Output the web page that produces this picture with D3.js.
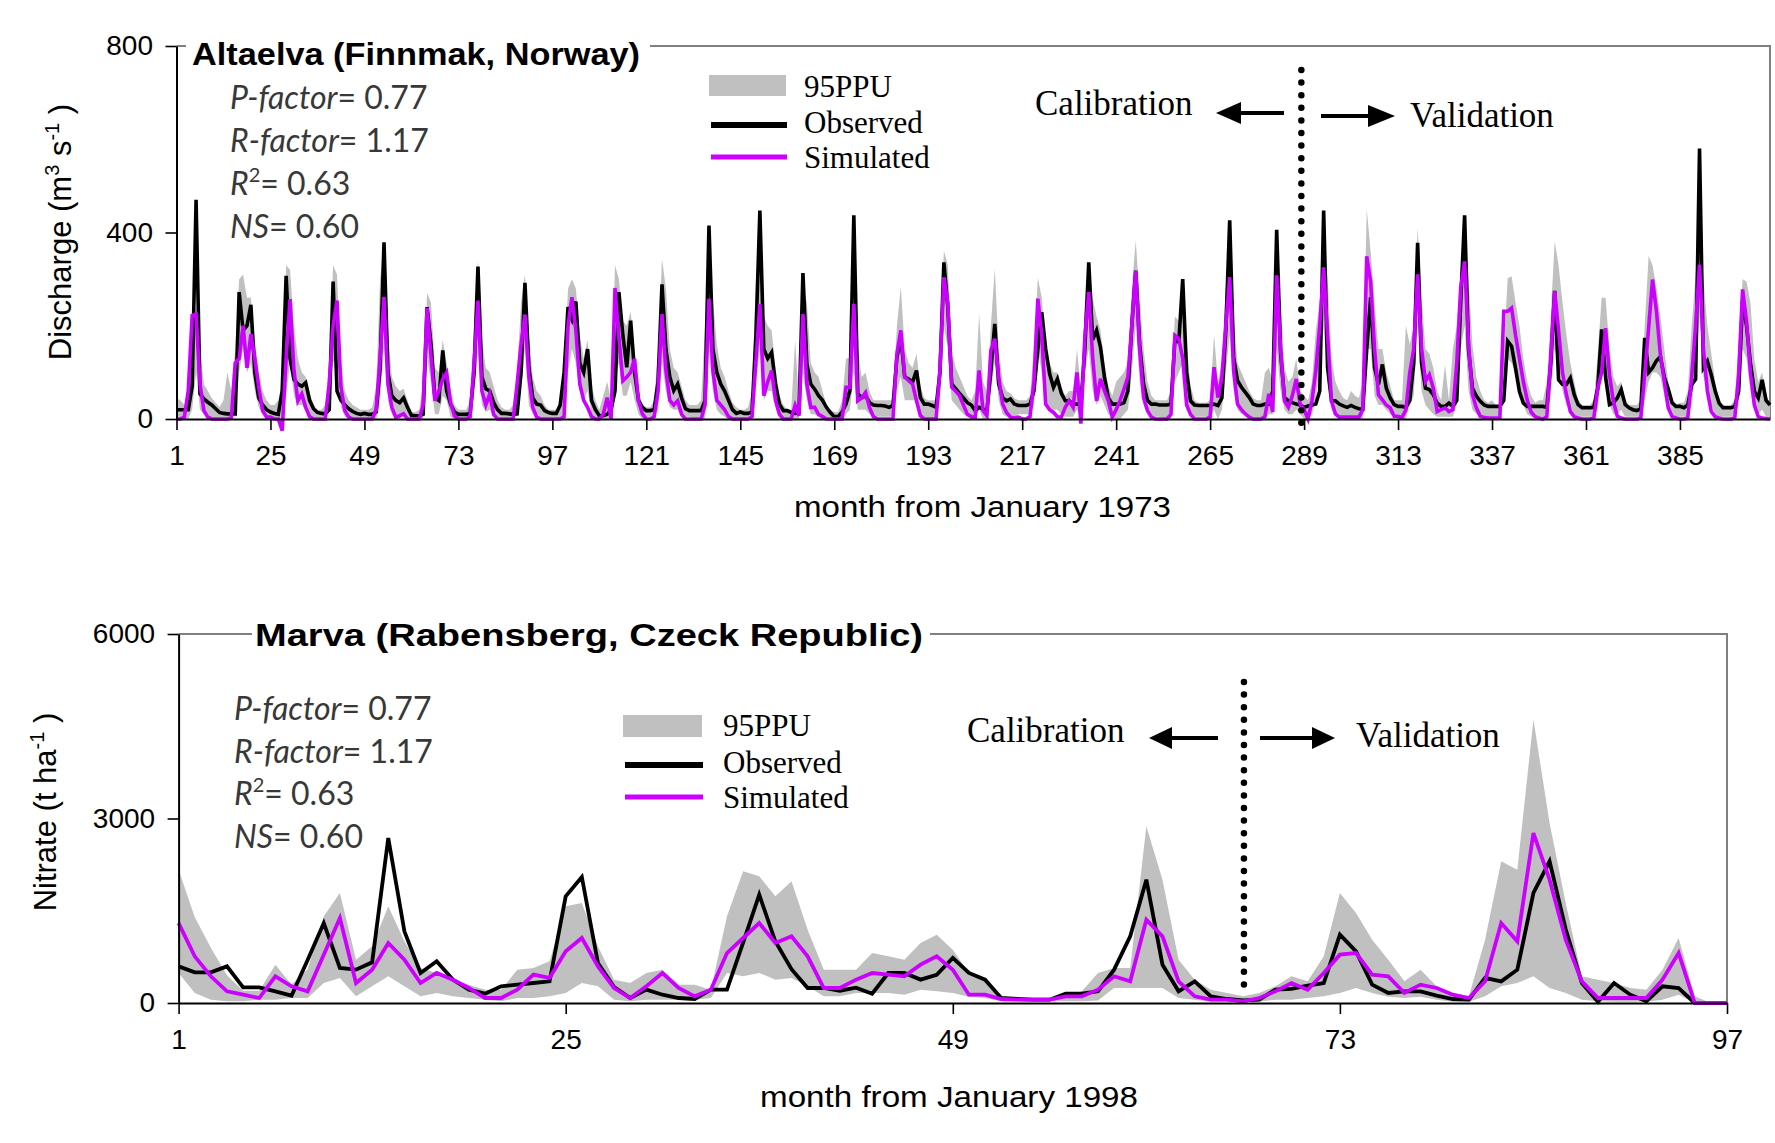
<!DOCTYPE html>
<html><head><meta charset="utf-8">
<script src="https://cdn.jsdelivr.net/npm/d3@7"></script>
<style>body{margin:0;background:#fff;}svg{display:block;}</style>
</head><body>
<svg id="chart" width="1775" height="1143"></svg>
<script>
// ---------- Altaelva: monthly discharge (m3/s), months 1..408 from Jan 1973 ----------
const obsQ = [
20,20,20,20,70,470,54,43,36,30,22,14,
12,11,11,11,272,190,200,245,100,45,30,20,
15,12,10,60,307,130,85,75,70,78,40,22,
14,12,11,20,295,60,40,30,22,16,12,10,
12,10,10,15,110,379,100,50,40,35,45,25,
8,7,7,10,240,160,46,40,147,60,32,15,
10,10,10,12,100,327,90,65,60,35,20,12,
12,11,10,11,100,292,110,45,32,30,18,14,
12,12,30,100,240,215,252,120,100,150,40,20,
7,7,10,20,60,272,180,111,211,100,40,25,
18,18,20,80,289,150,90,61,75,45,22,18,
18,18,18,40,415,150,100,75,60,40,20,12,
15,12,12,15,180,447,150,130,143,75,32,18,
18,14,12,14,313,118,75,64,50,40,25,14,
5,5,15,32,61,437,54,46,50,35,30,29,
29,28,25,29,132,175,90,86,79,104,46,32,
32,29,25,100,336,240,75,65,55,45,35,30,
18,25,21,18,104,204,75,46,39,43,32,29,
29,29,32,60,150,229,150,97,68,86,55,39,
39,32,32,32,150,336,170,190,154,90,46,32,
32,32,35,60,200,318,160,75,40,32,32,30,
30,30,32,170,165,300,100,39,30,29,29,29,
29,32,29,45,190,426,132,82,68,57,46,32,
29,29,32,32,60,406,140,46,39,35,32,30,
25,28,30,32,60,447,110,39,39,32,28,25,
29,25,22,21,150,261,110,74,117,66,45,31,
27,27,25,40,120,378,120,66,63,52,34,27,
27,34,27,40,250,437,150,66,49,38,30,27,
27,27,27,40,167,156,109,59,34,27,27,27,
27,27,25,120,275,84,74,74,88,52,31,24,
24,24,25,66,192,90,31,35,45,63,31,24,
20,18,22,174,100,110,125,134,90,65,35,27,
27,24,30,74,85,580,110,124,95,60,34,24,
24,24,27,60,256,200,120,60,45,84,40,30
];
const simQ = [
0,0,4,60,222,225,75,18,4,0,0,0,
0,0,2,120,130,200,110,182,130,68,18,4,
4,0,0,-25,130,257,104,39,54,25,5,0,
0,0,0,75,200,254,68,18,4,0,0,0,
0,0,0,20,132,262,75,25,4,7,11,0,
0,0,0,30,238,135,39,60,85,99,35,7,
0,0,0,5,118,254,60,30,54,10,0,0,
0,0,0,75,160,224,90,25,4,0,0,0,
0,0,0,5,200,261,190,75,40,25,5,0,
0,10,46,0,281,175,82,90,100,129,39,11,
0,0,5,60,225,104,40,30,39,10,0,0,
0,0,0,30,258,104,40,30,20,5,0,0,
0,0,0,5,125,247,50,80,104,40,10,0,
0,0,29,7,225,75,25,25,10,5,0,0,
0,0,0,68,68,247,39,45,57,25,5,0,
0,0,0,0,140,190,90,82,75,39,7,0,
0,0,0,104,304,250,68,60,50,30,10,5,
4,104,18,7,147,172,90,32,14,4,2,4,
0,0,5,80,258,180,32,20,14,5,4,25,
39,25,100,-10,175,272,132,39,86,61,39,4,
20,40,64,90,200,318,150,46,18,4,0,0,
0,0,10,179,172,130,30,10,0,0,0,0,
4,111,46,90,200,304,104,32,20,11,4,0,
0,0,5,54,15,308,150,39,25,50,86,32,
20,0,39,104,200,325,180,39,11,4,4,4,
4,4,4,20,349,295,150,52,41,30,24,6,
6,3,20,100,150,310,152,81,95,66,16,20,
24,16,20,120,281,338,160,52,24,6,3,2,
2,2,2,231,231,238,180,130,80,40,15,5,
2,0,5,130,274,190,100,52,16,5,2,0,
0,0,2,66,100,195,95,38,6,2,0,0,
0,0,2,95,195,299,231,138,81,24,5,2,
0,0,2,90,200,331,150,60,16,5,2,0,
0,0,2,95,278,210,100,30,5,2,1,0
];
const hiQ = [
45,40,30,40,150,240,150,75,60,45,35,25,
40,100,60,150,300,310,260,260,170,100,60,40,
30,30,40,80,330,320,200,130,100,90,55,30,
20,20,30,120,330,310,120,60,40,30,25,20,
20,20,25,70,300,380,190,90,70,60,65,40,
15,15,20,80,270,250,110,100,170,120,60,30,
20,20,20,40,200,340,170,110,100,70,40,25,
20,20,30,100,250,310,180,90,60,50,30,20,
20,20,30,100,280,300,280,180,130,170,70,40,
20,50,80,40,330,300,210,200,230,150,60,30,
25,25,40,150,343,280,150,110,100,70,40,30,
30,30,40,200,300,261,160,110,90,60,35,25,
20,20,25,60,300,330,220,200,190,110,50,30,
20,20,168,40,280,250,120,100,90,60,30,20,
15,15,40,130,130,300,150,90,100,60,40,40,
40,40,40,40,200,283,150,120,110,140,70,45,
40,40,40,180,361,330,150,110,90,70,50,40,
60,225,80,60,200,322,150,80,60,55,45,40,
40,40,50,150,303,260,150,120,100,100,70,50,
60,60,150,60,250,330,260,220,190,120,70,50,
80,90,100,120,280,383,260,150,80,50,40,40,
40,40,60,220,210,280,160,70,40,35,35,35,
40,180,80,120,280,380,220,120,100,80,60,45,
40,40,100,110,80,330,250,110,80,90,130,60,
50,40,80,190,250,380,300,130,80,60,45,40,
60,50,45,80,450,360,250,150,150,100,70,40,
40,40,200,160,200,410,260,150,140,110,60,40,
117,40,150,200,320,400,300,160,90,60,40,35,
40,30,30,150,302,306,250,200,130,80,50,35,
40,40,80,220,381,330,250,180,120,80,40,30,
30,30,40,140,260,260,150,90,70,80,40,30,
30,30,40,200,350,330,280,220,150,80,40,30,
35,35,60,200,310,420,300,200,140,80,40,30,
30,30,40,170,300,295,250,130,80,100,50,35
];
const loQ = [
0,0,0,0,20,100,20,10,5,0,0,0,
0,0,0,20,100,150,100,120,60,25,10,5,
0,0,0,0,50,120,50,30,30,20,5,0,
0,0,0,30,120,140,25,5,0,0,0,0,
0,0,0,0,40,150,40,10,0,0,10,5,
0,0,0,0,130,80,10,10,50,40,5,0,
0,0,0,0,50,140,30,15,20,5,0,0,
0,0,0,10,60,150,30,10,5,5,0,0,
0,0,0,0,100,150,120,60,40,60,10,0,
0,0,0,0,100,120,50,50,80,40,10,0,
5,5,5,20,120,60,25,20,20,10,5,5,
0,0,0,0,150,60,20,10,5,0,0,0,
0,0,0,0,80,150,40,60,60,25,5,0,
0,0,0,0,100,40,10,10,5,0,0,0,
0,0,0,10,20,100,20,20,20,10,5,5,
5,5,5,5,60,90,40,40,40,40,10,5,
0,0,0,40,200,150,40,30,20,10,5,0,
0,20,0,0,60,120,40,10,5,5,5,10,
10,10,10,30,150,100,40,20,20,20,10,5,
5,5,20,0,100,150,60,30,50,30,10,5,
0,0,10,20,100,200,80,30,10,5,5,5,
0,0,0,80,100,120,40,10,5,5,5,5,
0,20,0,20,100,180,60,20,10,10,5,5,
0,0,0,10,10,150,60,20,10,10,20,10,
0,0,10,40,120,200,80,20,10,5,5,5,
0,0,0,0,150,150,50,30,30,20,10,5,
0,0,0,30,50,200,60,30,20,10,5,5,
5,5,5,30,150,200,60,20,10,5,5,5,
5,5,5,100,130,120,100,60,30,10,5,5,
5,5,5,50,150,120,60,30,20,10,5,5,
5,5,5,20,100,120,30,10,10,20,5,5,
5,5,5,40,80,100,100,90,50,20,5,5,
5,5,5,30,100,220,90,60,30,10,5,5,
5,5,5,30,150,130,60,20,10,20,5,5
];
const ticksQ = [1,25,49,73,97,121,145,169,193,217,241,265,289,313,337,361,385];
const yTicksQ = [0,400,800];

// ---------- Marva: monthly nitrate (t/ha), months 1..97 from Jan 1998 ----------
const obsN = [
596,499,499,596,255,255,190,119,700,1300,569,542,
661,2683,1165,488,678,380,217,152,271,298,325,352,
1734,2049,650,260,81,217,135,81,65,217,217,980,
1760,1000,550,244,244,200,250,150,488,488,380,460,
732,488,380,81,65,54,54,152,152,190,542,1084,
2005,623,190,352,108,65,43,54,217,228,282,325,
1111,840,298,163,190,190,119,65,54,407,352,542,
1789,2304,1200,325,20,325,135,27,271,244,0,0,
0
];
const simN = [
1300,759,434,190,135,81,434,271,190,786,1382,325,
542,976,705,325,488,380,244,81,81,217,461,407,
840,1057,596,244,81,271,488,244,108,217,813,1057,
1300,976,1084,759,244,244,380,488,461,434,623,759,
542,135,135,65,54,54,54,108,108,217,434,352,
1355,1084,352,108,54,54,27,81,190,325,217,488,
786,813,461,434,163,298,244,135,81,352,1300,1003,
2764,2005,1030,352,81,81,81,81,380,813,0,0,
0
];
const hiN = [
2168,1400,900,450,200,200,623,300,550,1409,1789,705,
921,1572,1003,569,488,380,298,217,217,542,569,678,
1572,1626,921,380,325,488,542,298,298,217,1409,2141,
2060,1734,1978,1192,542,542,542,813,759,705,976,1111,
867,488,380,108,81,81,81,135,190,488,569,569,
2873,2005,705,380,217,163,108,163,271,434,352,759,
1789,1463,1030,705,352,542,271,163,108,1030,2304,2168,
4607,2927,1626,434,380,325,244,217,542,1057,108,0,
0
];
const loN = [
488,163,54,27,27,54,54,81,81,325,407,108,
271,434,271,108,163,108,81,54,27,81,81,108,
163,325,271,54,27,54,54,54,54,81,488,434,
488,380,407,271,108,108,163,163,163,135,217,190,
163,100,80,27,27,27,27,27,27,40,244,244,
244,244,81,54,20,20,20,20,54,54,81,108,
163,244,163,100,80,100,54,20,20,108,271,325,
434,244,163,54,27,20,20,20,54,135,0,0,
0
];
const ticksN = [1,25,49,73,97];
const yTicksN = [0,3000,6000];

const statLines = [
  [{t:'P-factor',it:true},{t:'= 0.77'}],
  [{t:'R-factor',it:true},{t:'= 1.17'}],
  [{t:'R',it:true},{t:'2',sup:true},{t:'= 0.63'}],
  [{t:'NS',it:true},{t:'= 0.60'}]
];
const legendLabels = ['95PPU','Observed','Simulated'];

// ---------- drawing ----------
const svg = d3.select('#chart');
const SANS = "'Liberation Sans', Arial, sans-serif";
const SERIF = "'Liberation Serif', 'Times New Roman', serif";
const CAL = "Lato, 'Open Sans', sans-serif";
const BAND = '#c0c0c0', SIM = '#cc00ff', FRAME = '#808080';

function panel(o){
  const x = d3.scaleLinear().domain(o.xDomain).range(o.xRange);
  const y = d3.scaleLinear().domain(o.yDomain).range(o.yRange);
  const g = svg.append('g');
  const idx = d3.range(o.obs.length);
  const [x0,x1] = o.xRange, [yb,yt] = o.yRange;
  g.append('path').attr('d',`M${x0},${yt}H${x1}V${yb}`).attr('fill','none')
    .attr('stroke',FRAME).attr('stroke-width',2);
  g.append('path').datum(idx)
    .attr('d', d3.area().x(i=>x(i+1)).y0(i=>y(o.lo[i])).y1(i=>y(o.hi[i])))
    .attr('fill',BAND);
  g.append('path').datum(idx)
    .attr('d', d3.line().x(i=>x(i+1)).y(i=>y(o.obs[i])))
    .attr('fill','none').attr('stroke','#000').attr('stroke-width',o.lw);
  g.append('path').datum(idx)
    .attr('d', d3.line().x(i=>x(i+1)).y(i=>y(o.sim[i])))
    .attr('fill','none').attr('stroke',SIM).attr('stroke-width',o.lw);
  const gx = g.append('g').attr('transform',`translate(0,${yb})`)
    .call(d3.axisBottom(x).tickValues(o.xTicks).tickSize(11).tickSizeOuter(0).tickPadding(15).tickFormat(d3.format('d')));
  const gy = g.append('g').attr('transform',`translate(${x0},0)`)
    .call(d3.axisLeft(y).tickValues(o.yTicks).tickSize(11).tickSizeOuter(0).tickPadding(12.5).tickFormat(d3.format('d')));
  [gx,gy].forEach(a=>{
    a.attr('font-family',SANS).attr('font-size',28);
    a.select('.domain').attr('stroke','#000').attr('stroke-width',2);
    a.selectAll('.tick line').attr('stroke','#000').attr('stroke-width',1.6);
    a.selectAll('.tick text').attr('fill','#000');
  });
  return {x,y,g};
}

function titleBox(g, txt, x, base, size, len, bgFrom, bgTo, top){
  g.append('rect').attr('x',bgFrom).attr('y',top-6).attr('width',bgTo-bgFrom).attr('height',14).attr('fill','#fff');
  g.append('text').attr('x',x).attr('y',base).attr('font-family',SANS).attr('font-weight','bold')
    .attr('font-size',size).attr('textLength',len).attr('lengthAdjust','spacingAndGlyphs').attr('fill','#000').text(txt);
}

function stats(g, x, bases){
  statLines.forEach((parts,k)=>{
    const t = g.append('text').attr('x',x).attr('y',bases[k]).attr('font-family',CAL)
      .attr('font-size',32).attr('fill','#383838');
    let shifted=false;
    parts.forEach(p=>{
      const s = t.append('tspan').text(p.t);
      if(p.it) s.attr('font-style','italic');
      if(p.sup){ s.attr('font-size',20).attr('dy',-13); shifted=true; }
      else if(shifted){ s.attr('dy',13); shifted=false; }
    });
  });
}

function legend(g, rx, ry, rw, rh, lineYs, tx, bases){
  g.append('rect').attr('x',rx).attr('y',ry).attr('width',rw).attr('height',rh).attr('fill',BAND);
  g.append('line').attr('x1',rx+2).attr('x2',rx+rw+1).attr('y1',lineYs[0]).attr('y2',lineYs[0]).attr('stroke','#000').attr('stroke-width',6);
  g.append('line').attr('x1',rx+2).attr('x2',rx+rw+1).attr('y1',lineYs[1]).attr('y2',lineYs[1]).attr('stroke',SIM).attr('stroke-width',5);
  legendLabels.forEach((l,k)=>{
    g.append('text').attr('x',tx).attr('y',bases[k]).attr('font-family',SERIF).attr('font-size',31).attr('fill','#000').text(l);
  });
}

function arrow(g, tail, base, tip, y, half){
  g.append('line').attr('x1',tail).attr('x2',base).attr('y1',y).attr('y2',y).attr('stroke','#000').attr('stroke-width',4);
  g.append('path').attr('d',`M${tip},${y}L${base},${y-half}L${base},${y+half}Z`).attr('fill','#000');
}

function dotted(g, x, y1, y2){
  g.append('line').attr('x1',x).attr('x2',x).attr('y1',y1).attr('y2',y2)
    .attr('stroke','#000').attr('stroke-width',6.5).attr('stroke-linecap','round').attr('stroke-dasharray','0,12.6');
}

function yTitle(g, cx, cy, parts){
  const t = g.append('text').attr('transform',`translate(${cx},${cy}) rotate(-90)`)
    .attr('text-anchor','middle').attr('font-family',SANS).attr('font-size',31).attr('fill','#000');
  parts.forEach((p,k)=>{
    const s = t.append('tspan').text(p.t);
    if(p.sup) s.attr('font-size',20).attr('dy',-12);
    else if(k>0 && parts[k-1].sup) s.attr('dy',12);
  });
}

function xTitle(g, x, base, txt, len){
  g.append('text').attr('x',x).attr('y',base).attr('font-family',SANS).attr('font-size',29)
    .attr('textLength',len).attr('lengthAdjust','spacingAndGlyphs').attr('fill','#000').text(txt);
}

function label(g, x, y, txt){
  g.append('text').attr('x',x).attr('y',y).attr('font-family',SERIF).attr('font-size',35).attr('fill','#000').text(txt);
}

// ----- top panel -----
const A = panel({xDomain:[1,408], xRange:[176.5,1770], yDomain:[0,800], yRange:[419,46],
  obs:obsQ, sim:simQ, lo:loQ, hi:hiQ, xTicks:ticksQ, yTicks:yTicksQ, lw:3.6});
titleBox(A.g, 'Altaelva (Finnmak, Norway)', 192, 65, 32, 448, 186, 650, 46);
stats(A.g, 230, [109,152,195,238]);
legend(A.g, 709, 75, 77, 21, [125,157], 804, [97,133,168]);
dotted(A.g, A.x(288.3), 70, 425);
label(A.g, 1035, 115, 'Calibration');
label(A.g, 1410, 127, 'Validation');
arrow(A.g, 1284, 1241, 1216, 113, 11);
arrow(A.g, 1321, 1368, 1395, 116, 11);
yTitle(A.g, 71, 232, [{t:'Discharge (m'},{t:'3',sup:true},{t:' s'},{t:'-1',sup:true},{t:' )'}]);
xTitle(A.g, 794, 517, 'month from January 1973', 377);

// ----- bottom panel -----
const B = panel({xDomain:[1,97], xRange:[178.6,1727], yDomain:[0,6000], yRange:[1003,634],
  obs:obsN, sim:simN, lo:loN, hi:hiN, xTicks:ticksN, yTicks:yTicksN, lw:3.8});
titleBox(B.g, 'Marva (Rabensberg, Czeck Republic)', 255, 646, 32, 668, 252, 930, 634);
stats(B.g, 234, [720,763,805,848]);
legend(B.g, 623, 715, 79, 22, [765,797], 723, [736,773,808]);
dotted(B.g, B.x(67.05), 682, 985);
label(B.g, 967, 742, 'Calibration');
label(B.g, 1356, 747, 'Validation');
arrow(B.g, 1218, 1172, 1149, 738, 11);
arrow(B.g, 1260, 1312, 1335, 738, 11);
yTitle(B.g, 56, 812, [{t:'Nitrate (t ha'},{t:'-1',sup:true},{t:' )'}]);
xTitle(B.g, 760, 1107, 'month from January 1998', 378);
</script>
</body></html>
